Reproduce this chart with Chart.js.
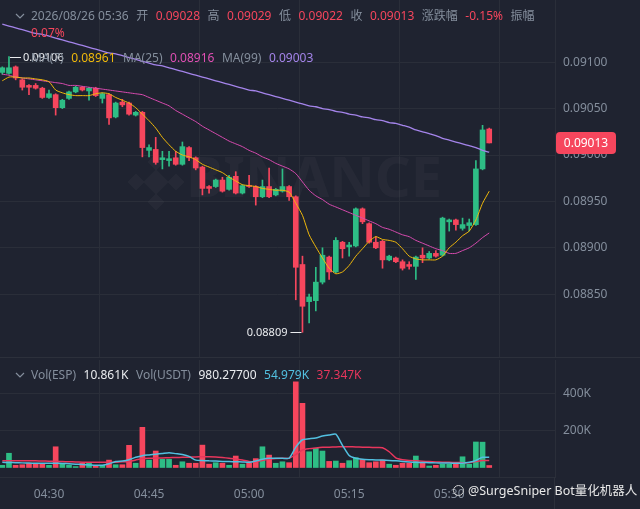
<!DOCTYPE html>
<html>
<head>
<meta charset="utf-8">
<script src="https://cdn.jsdelivr.net/npm/chart.js@4.4.1/dist/chart.umd.min.js"></script>
<style>
body{margin:0;background:#1f2330;width:640px;height:509px;overflow:hidden;position:relative;
  font-family:"Noto Sans","Noto Sans CJK SC",sans-serif;font-size:12px;color:#848e9c}
canvas{position:absolute;left:0}
#main{top:0}
#vol{top:357px}
.row{position:absolute;left:31px;white-space:nowrap;line-height:16px}
.row span{margin-right:7.5px}
.chev{position:absolute;left:15px;width:10px;height:8px}
.r{color:#f6465d}
.w{color:#eaecef}
#sep{position:absolute;left:0;top:357px;width:640px;height:1px;background:#2c303b}
#axline{position:absolute;left:554px;top:477px;width:1px;height:32px;background:#2c303b}
#wm{position:absolute;left:453px;top:483px;color:#e8e8e8;font-size:12.5px;white-space:nowrap;line-height:16px}
#wm i{display:inline-block;width:9px;height:9px;border:1px solid #cfcfcf;border-radius:50%;margin-right:4px;vertical-align:-1px}
</style>
</head>
<body>
<canvas id="main" width="640" height="357"></canvas>
<canvas id="vol" width="640" height="152"></canvas>
<div id="sep"></div>
<div id="axline"></div>

<svg class="chev" style="top:12px" viewBox="0 0 10 8"><polyline points="1,2 5,6 9,2" fill="none" stroke="#848e9c" stroke-width="1.2"/></svg>
<div class="row" style="top:8px">
  <span>2026/08/26 05:36</span><span>开</span><span class="r">0.09028</span><span>高</span><span class="r">0.09029</span><span>低</span><span class="r">0.09022</span><span>收</span><span class="r">0.09013</span><span>涨跌幅</span><span class="r">-0.15%</span><span>振幅</span>
</div>
<div class="row r" style="top:25px">0.07%</div>
<div class="row" style="top:50px">
  <span>MA(7)</span><span style="color:#f0b90b">0.08961</span><span>MA(25)</span><span style="color:#e04fb4">0.08916</span><span>MA(99)</span><span style="color:#a484ea">0.09003</span>
</div>

<svg class="chev" style="top:371px" viewBox="0 0 10 8"><polyline points="1,2 5,6 9,2" fill="none" stroke="#848e9c" stroke-width="1.2"/></svg>
<div class="row" style="top:367px">
  <span>Vol(ESP)</span><span class="w">10.861K</span><span>Vol(USDT)</span><span class="w">980.27700</span><span style="color:#52c0e0">54.979K</span><span style="color:#e8365c">37.347K</span>
</div>

<div id="wm"><i></i>@SurgeSniper Bot量化机器人</div>

<script>
// 1m candles 04:23 - 05:36
var times = ["04:23","04:24","04:25","04:26","04:27","04:28","04:29","04:30","04:31","04:32",
  "04:33","04:34","04:35","04:36","04:37","04:38","04:39","04:40","04:41","04:42",
  "04:43","04:44","04:45","04:46","04:47","04:48","04:49","04:50","04:51","04:52",
  "04:53","04:54","04:55","04:56","04:57","04:58","04:59","05:00","05:01","05:02",
  "05:03","05:04","05:05","05:06","05:07","05:08","05:09","05:10","05:11","05:12",
  "05:13","05:14","05:15","05:16","05:17","05:18","05:19","05:20","05:21","05:22",
  "05:23","05:24","05:25","05:26","05:27","05:28","05:29","05:30","05:31","05:32",
  "05:33","05:34","05:35","05:36"];

var open = [0.09089,0.09088,0.09095,0.09081,0.09075,0.09075,0.09072,0.09062,0.09065,0.09051,
  0.09061,0.09068,0.09073,0.09069,0.09072,0.09061,0.09065,0.09041,0.09057,0.09056,
  0.09043,0.09046,0.09005,0.09006,0.08995,0.08994,0.08997,0.08990,0.09008,0.08997,
  0.08987,0.08966,0.08966,0.08973,0.08963,0.08977,0.08959,0.08967,0.08966,0.08955,
  0.08966,0.08957,0.08961,0.08966,0.08955,0.08882,0.08842,0.08843,0.08863,0.08890,
  0.08874,0.08906,0.08901,0.08902,0.08942,0.08926,0.08906,0.08907,0.08887,0.08889,
  0.08885,0.08882,0.08880,0.08892,0.08889,0.08894,0.08892,0.08928,0.08930,0.08921,
  0.08924,0.08925,0.08985,0.09028];
var high = [0.09095,0.09106,0.09096,0.09082,0.09076,0.09077,0.09073,0.09070,0.09066,0.09060,
  0.09069,0.09074,0.09074,0.09073,0.09073,0.09067,0.09066,0.09057,0.09060,0.09057,
  0.09047,0.09047,0.09011,0.09019,0.09004,0.09004,0.09004,0.09014,0.09009,0.08998,
  0.08988,0.08967,0.08974,0.08976,0.08978,0.08982,0.08968,0.08978,0.08967,0.08973,
  0.08986,0.08964,0.08985,0.08967,0.08956,0.08891,0.08850,0.08879,0.08900,0.08891,
  0.08911,0.08907,0.08906,0.08943,0.08943,0.08927,0.08912,0.08908,0.08892,0.08890,
  0.08887,0.08885,0.08891,0.08900,0.08896,0.08897,0.08933,0.08931,0.08931,0.08932,
  0.08931,0.08994,0.09032,0.09029];
var low = [0.09087,0.09087,0.09081,0.09070,0.09065,0.09071,0.09061,0.09061,0.09043,0.09050,
  0.09060,0.09067,0.09069,0.09059,0.09063,0.09056,0.09033,0.09040,0.09052,0.09043,
  0.09042,0.08998,0.08998,0.08990,0.08985,0.08988,0.08989,0.08989,0.08994,0.08984,
  0.08957,0.08959,0.08965,0.08960,0.08962,0.08958,0.08958,0.08965,0.08946,0.08954,
  0.08954,0.08956,0.08960,0.08951,0.08844,0.08809,0.08819,0.08832,0.08861,0.08866,
  0.08873,0.08889,0.08891,0.08901,0.08926,0.08905,0.08899,0.08878,0.08886,0.08884,
  0.08876,0.08877,0.08866,0.08884,0.08888,0.08890,0.08891,0.08918,0.08919,0.08919,
  0.08918,0.08924,0.08984,0.09013];
var close = [0.09094,0.09094,0.09083,0.09073,0.09073,0.09072,0.09062,0.09066,0.09051,0.09059,
  0.09068,0.09073,0.09070,0.09072,0.09064,0.09066,0.09040,0.09056,0.09054,0.09044,
  0.09046,0.09008,0.09008,0.08992,0.08997,0.08996,0.08990,0.09009,0.08997,0.08986,
  0.08964,0.08964,0.08973,0.08961,0.08976,0.08959,0.08967,0.08966,0.08955,0.08966,
  0.08955,0.08963,0.08966,0.08955,0.08879,0.08837,0.08847,0.08863,0.08892,0.08874,
  0.08908,0.08899,0.08903,0.08942,0.08928,0.08906,0.08900,0.08887,0.08891,0.08885,
  0.08878,0.08880,0.08890,0.08889,0.08894,0.08891,0.08932,0.08930,0.08925,0.08925,
  0.08927,0.08985,0.09027,0.09013];

var ma7 = [0.09080,0.09084,0.09084,0.09083,0.09083,0.09082,0.09081,0.09079,0.09070,0.09067,
  0.09065,0.09064,0.09064,0.09064,0.09066,0.09067,0.09066,0.09062,0.09059,0.09056,
  0.09051,0.09044,0.09037,0.09029,0.09019,0.09011,0.09004,0.09000,0.08998,0.08995,
  0.08990,0.08987,0.08984,0.08981,0.08976,0.08972,0.08968,0.08967,0.08966,0.08964,
  0.08963,0.08962,0.08962,0.08960,0.08948,0.08935,0.08914,0.08901,0.08889,0.08878,
  0.08872,0.08874,0.08881,0.08891,0.08899,0.08907,0.08912,0.08909,0.08908,0.08906,
  0.08899,0.08891,0.08888,0.08887,0.08887,0.08887,0.08891,0.08900,0.08906,0.08913,
  0.08918,0.08930,0.08948,0.08961];
var ma25 = [0.09087,0.09086,0.09084,0.09083,0.09082,0.09081,0.09080,0.09079,0.09078,0.09077,
  0.09075,0.09075,0.09074,0.09073,0.09072,0.09071,0.09070,0.09069,0.09068,0.09067,
  0.09066,0.09065,0.09062,0.09059,0.09056,0.09053,0.09048,0.09044,0.09040,0.09036,
  0.09031,0.09027,0.09023,0.09019,0.09015,0.09012,0.09009,0.09005,0.09002,0.08998,
  0.08995,0.08991,0.08988,0.08985,0.08980,0.08971,0.08962,0.08956,0.08952,0.08947,
  0.08944,0.08941,0.08938,0.08935,0.08932,0.08929,0.08926,0.08922,0.08920,0.08917,
  0.08914,0.08912,0.08908,0.08905,0.08902,0.08899,0.08897,0.08894,0.08894,0.08897,
  0.08900,0.08905,0.08911,0.08916];
var ma99 = [0.09141,0.09139,0.09137,0.09135,0.09133,0.09131,0.09130,0.09128,0.09126,0.09124,
  0.09122,0.09120,0.09118,0.09116,0.09114,0.09112,0.09110,0.09109,0.09107,0.09105,
  0.09103,0.09101,0.09099,0.09097,0.09096,0.09094,0.09092,0.09090,0.09088,0.09086,
  0.09084,0.09082,0.09080,0.09078,0.09076,0.09074,0.09072,0.09070,0.09069,0.09067,
  0.09065,0.09063,0.09061,0.09059,0.09057,0.09055,0.09053,0.09052,0.09050,0.09049,
  0.09047,0.09046,0.09044,0.09043,0.09041,0.09040,0.09038,0.09037,0.09035,0.09034,
  0.09032,0.09030,0.09027,0.09025,0.09023,0.09021,0.09018,0.09016,0.09014,0.09012,
  0.09010,0.09008,0.09005,0.09003];

var volume = [12000,77000,12000,15000,23000,23000,18000,12000,112000,23000,
  12000,5000,23000,23000,8000,12000,40000,15000,15000,120000,
  23000,217000,40000,89000,44000,44000,12000,31000,23000,23000,
  121000,18000,26000,23000,12000,62000,18000,23000,48000,112000,
  67000,23000,31000,26000,463000,347000,85000,104000,89000,33000,
  35000,23000,37000,53000,44000,26000,31000,40000,18000,12000,
  23000,23000,62000,26000,8000,12000,18000,18000,18000,58000,
  18000,138000,137000,10861];
var volMa5 = [28000,27000,26000,25000,24000,23000,23000,23000,23000,22000,
  20000,18000,16000,14000,12000,12000,20000,32000,35000,42000,
  55000,64000,68000,72000,76000,80000,75000,70000,60000,40000,
  38000,36000,35000,33000,32000,31000,30000,28000,35000,45000,
  50000,50000,50000,50000,110000,150000,155000,160000,170000,176000,
  180000,120000,65000,50000,44000,42000,41000,40000,38000,36000,
  33000,30000,28000,27000,26000,25000,24000,24000,23000,23000,
  28000,38000,55000,54979];
var volMa10 = [37000,37000,37000,37000,37000,36000,35000,34000,33000,32000,
  31000,30000,29000,28000,28000,28000,28000,29000,31000,33000,
  40000,48000,50000,51000,52000,53000,54000,55000,56000,57000,
  58000,58000,57000,54000,50000,46000,40000,33000,31000,38000,
  45000,48000,50000,50000,70000,95000,102000,106000,109000,110000,
  111000,112000,112000,111000,110000,109000,108000,107000,85000,52000,
  42000,38000,36000,34000,32000,30000,29000,28000,27000,26000,
  26000,32000,38000,37347];

var tickIdx = [7, 22, 37, 52, 67];
var priceTicks = [0.0885, 0.0890, 0.0895, 0.0900, 0.0905, 0.0910];

var UP = '#2ebd85', DOWN = '#f6465d', GRID = '#2a2e39', TXT = '#848e9c';
Chart.defaults.font.family = '"Noto Sans", sans-serif';
Chart.defaults.font.size = 12;
Chart.defaults.color = TXT;

var up = close.map(function(c, i){ return c >= open[i]; });
var colors = up.map(function(u){ return u ? UP : DOWN; });
function pts(arr){ return arr.map(function(v, i){ return {x: i, y: v}; }); }

function xScale(showLabels){
  return {
    type: 'linear', min: -0.345, max: 82.86, offset: false,
    grid: {color: GRID, drawTicks: false},
    border: {display: showLabels, color: GRID},
    ticks: {display: showLabels, padding: 10, color: TXT,
      callback: function(v){ return times[v]; }},
    afterBuildTicks: function(s){ s.ticks = tickIdx.map(function(v){ return {value: v}; }); },
    afterFit: function(s){ s.height = showLabels ? 32 : 0; s.paddingLeft = 0; s.paddingRight = 0; }
  };
}

function maLine(arr, color, w){
  return {type: 'line', data: pts(arr), borderColor: color, borderWidth: w || 1,
    pointRadius: 0, fill: false, tension: 0.2};
}

var overlay = {
  id: 'overlay',
  beforeDatasetsDraw: function(chart){
    var c = chart.ctx;
    c.save();
    c.fillStyle = 'rgba(255,255,255,0.03)';
    c.font = 'bold 56px "Noto Sans", sans-serif';
    c.textBaseline = 'middle';
    c.fillText('BINANCE', 186, 181);
    // simple logo of diamonds
    var cx = 156, cy = 182;
    [[0,0,9],[0,-20,6],[0,20,6],[-20,0,6],[20,0,6]].forEach(function(d){
      c.save(); c.translate(cx + d[0], cy + d[1]); c.rotate(Math.PI/4);
      c.fillRect(-d[2], -d[2], d[2]*2, d[2]*2); c.restore();
    });
    c.restore();
  },
  afterDraw: function(chart){
    var c = chart.ctx, xs = chart.scales.x, ys = chart.scales.y;
    c.save();
    c.font = '11px "Noto Sans", sans-serif';
    c.fillStyle = '#eaecef'; c.strokeStyle = '#eaecef'; c.lineWidth = 1;
    c.textBaseline = 'middle';
    // highest
    var hx = xs.getPixelForValue(1), hy = Math.round(ys.getPixelForValue(0.09106)) + 0.5;
    c.beginPath(); c.moveTo(hx + 1, hy); c.lineTo(hx + 12, hy); c.stroke();
    c.textAlign = 'left'; c.fillText('0.09106', hx + 14, hy);
    // lowest
    var lx = xs.getPixelForValue(45), ly = Math.round(ys.getPixelForValue(0.08809)) + 0.5;
    c.beginPath(); c.moveTo(lx - 1, ly); c.lineTo(lx - 12, ly); c.stroke();
    c.textAlign = 'right'; c.fillText('0.08809', lx - 15, ly);
    // last price tag
    var py = ys.getPixelForValue(close[close.length - 1]);
    c.fillStyle = DOWN;
    c.beginPath(); c.roundRect(556, py - 11, 60, 22, 4); c.fill();
    c.fillStyle = '#ffffff'; c.font = '12px "Noto Sans", sans-serif';
    c.textAlign = 'center';
    c.fillText(close[close.length - 1].toFixed(5), 586, py + 0.5);
    c.restore();
  }
};

new Chart(document.getElementById('main'), {
  type: 'bar',
  data: {
    datasets: [
      maLine(ma7, '#f0b90b'),
      maLine(ma25, '#d94bb0'),
      maLine(ma99, '#a484ea', 1.3),
      {data: close.map(function(c, i){ return {x: i, y: [open[i], c]}; }),
        backgroundColor: colors, barThickness: 5, minBarLength: 1, grouped: false},
      {data: close.map(function(c, i){ return {x: i, y: [low[i], high[i]]}; }),
        backgroundColor: colors, barThickness: 1, grouped: false}
    ]
  },
  options: {
    responsive: false, animation: false, devicePixelRatio: 1,
    layout: {padding: 0},
    plugins: {legend: {display: false}, tooltip: {enabled: false}},
    scales: {
      x: xScale(false),
      y: {
        position: 'right', min: 0.08782328, max: 0.09167026,
        grid: {color: GRID, drawTicks: false},
        border: {color: GRID},
        ticks: {padding: 8, color: TXT, callback: function(v){ return v.toFixed(5); }},
        afterBuildTicks: function(s){ s.ticks = priceTicks.map(function(v){ return {value: v}; }); },
        afterFit: function(s){ s.width = 85; s.paddingTop = 0; s.paddingBottom = 0; }
      }
    }
  },
  plugins: [overlay]
});

new Chart(document.getElementById('vol'), {
  type: 'bar',
  data: {
    datasets: [
      maLine(volMa5, '#52c0e0', 1.5),
      maLine(volMa10, '#e8365c', 1.5),
      {data: pts(volume), backgroundColor: colors, barThickness: 5, grouped: false}
    ]
  },
  options: {
    responsive: false, animation: false, devicePixelRatio: 1,
    layout: {padding: {top: 3}},
    plugins: {legend: {display: false}, tooltip: {enabled: false}},
    scales: {
      x: xScale(true),
      y: {
        position: 'right', min: -51350, max: 581080,
        grid: {color: GRID, drawTicks: false},
        border: {color: GRID},
        ticks: {padding: 8, color: TXT, callback: function(v){ return (v / 1000) + 'K'; }},
        afterBuildTicks: function(s){ s.ticks = [{value: 200000}, {value: 400000}]; },
        afterFit: function(s){ s.width = 85; s.paddingTop = 0; s.paddingBottom = 0; }
      }
    }
  }
});
</script>
</body>
</html>
